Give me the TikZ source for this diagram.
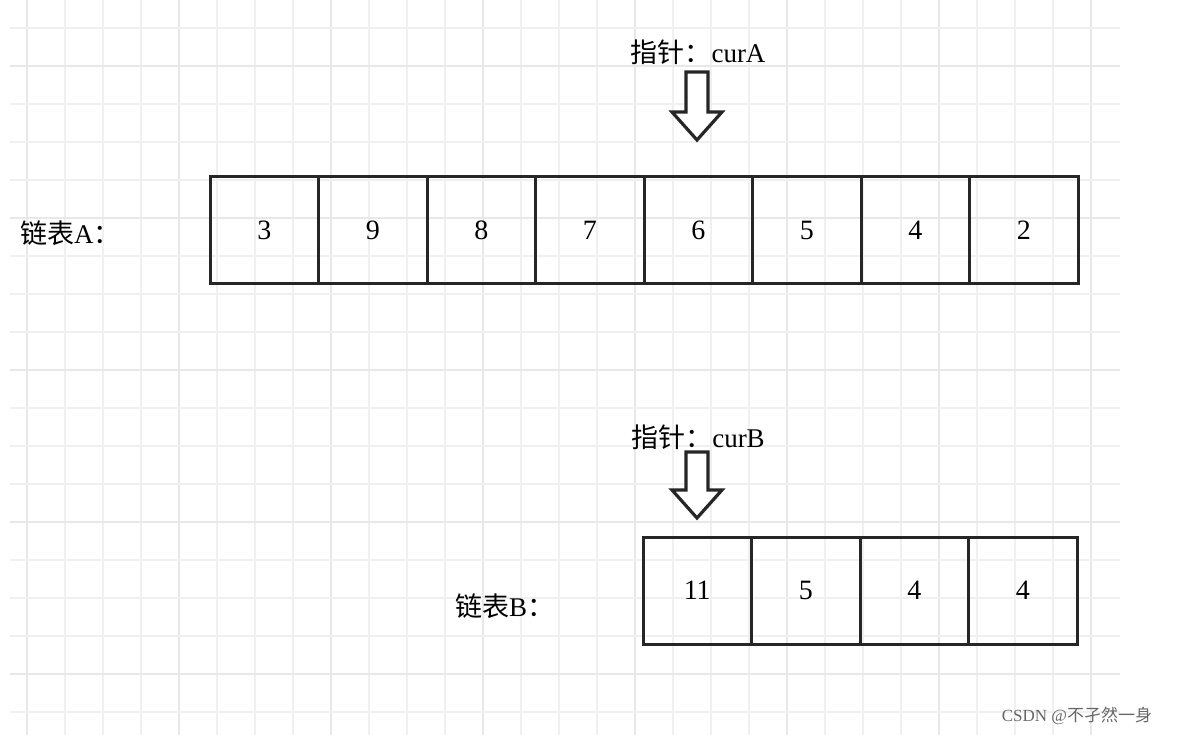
\documentclass[tikz,border=0pt]{standalone}
\usepackage{fontspec}
\setmainfont{Liberation Serif}
\newfontfamily\cjk{Noto Sans CJK SC}
\begin{document}
\begin{tikzpicture}[x=1pt,y=-1pt,
  cell/.style={draw=black!85,line width=3pt,minimum width=108.5pt,minimum height=107pt,inner sep=0pt,font=\fontsize{28}{28}\selectfont},
  lbl/.style={font=\fontsize{27}{27}\selectfont,inner sep=0pt},
  hollow/.style={draw=black!85,line width=3.2pt,line join=miter,fill=white}]
\useasboundingbox (0,0) rectangle (1178,735);
\fill[white] (0,0) rectangle (1178,735);
\foreach \i in {0,...,28} {
  \pgfmathsetmacro\xx{27+38*\i}
  \pgfmathtruncatemacro\m{mod(\i,4)}
  \ifnum\m=0 \draw[black!9,line width=2.2pt] (\xx,0) -- (\xx,735); \else \draw[black!6,line width=1.6pt] (\xx,0) -- (\xx,735); \fi
}
\foreach \i in {0,...,18} {
  \pgfmathsetmacro\yy{28+38*\i}
  \pgfmathtruncatemacro\m{mod(\i+3,4)}
  \ifnum\m=0 \draw[black!9,line width=2.2pt] (10,\yy) -- (1120,\yy); \else \draw[black!6,line width=1.6pt] (10,\yy) -- (1120,\yy); \fi
}
% list A
\foreach \v [count=\k from 0] in {3,9,8,7,6,5,4,2}
  \node[cell] (a\k) at (264.25+108.5*\k,230) {\raisebox{-3pt}{\v}};
% list B
\foreach \v [count=\k from 0] in {11,5,4,4}
  \node[cell] (b\k) at (697.25+108.5*\k,590.5) {\raisebox{-2pt}{\v}};
\node[lbl,anchor=west] (la) at (20,233) {{\cjk 链表}A{\cjk ：}};
\node[lbl,anchor=west] (lb) at (455,606) {{\cjk 链表}B{\cjk ：}};
\node[lbl] (pa) at (698,52) {{\cjk 指针：}curA};
\node[lbl] (pb) at (698,437) {{\cjk 指针：}curB};
% arrows
\draw[hollow] (686,72) -- (708,72) -- (708,112) -- (722,112) -- (697,140) -- (672,112) -- (686,112) -- cycle;
\draw[hollow] (686,452) -- (708,452) -- (708,490) -- (722,490) -- (697,518) -- (672,490) -- (686,490) -- cycle;
\node[font=\fontsize{17}{17}\selectfont,text=black!60,inner sep=0pt] (wm) at (1077,716) {CSDN @{\cjk 不孑然一身}};
\end{tikzpicture}
\end{document}
